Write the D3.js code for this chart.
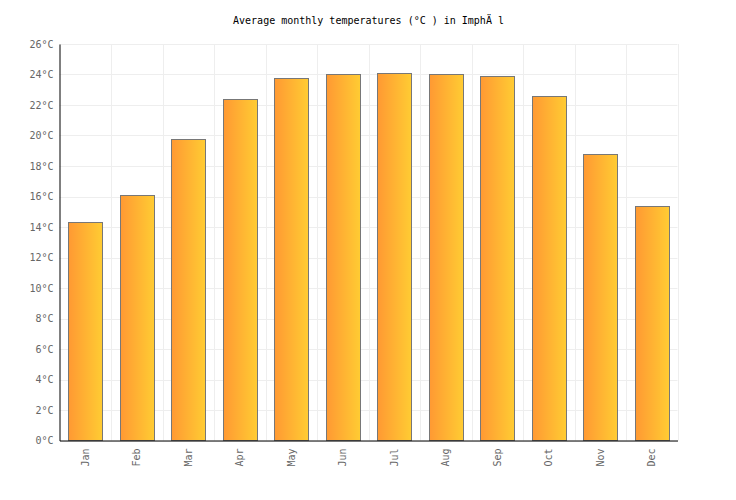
<!DOCTYPE html>
<html>
<head>
<meta charset="utf-8">
<script src="https://cdn.jsdelivr.net/npm/d3@7"></script>
<style>
  body { margin: 0; background: #fff; }
  svg text { font-family: "DejaVu Sans Mono", monospace; }
</style>
</head>
<body>
<svg id="chart"></svg>
<script>
// months and mean temperatures (°C)
var months = ["Jan", "Feb", "Mar", "Apr", "May", "Jun", "Jul", "Aug", "Sep", "Oct", "Nov", "Dec"];
var temps = [14.3, 16.1, 19.8, 22.4, 23.8, 24.0, 24.1, 24.0, 23.9, 22.6, 18.8, 15.4];
var yTicks = [0, 2, 4, 6, 8, 10, 12, 14, 16, 18, 20, 22, 24, 26];
var title = "Average monthly temperatures (°C ) in ImphÄ l";

var setup = {
  width: 736,
  height: 500,
  left: 59.5,
  right: 677.5,
  top: 44,
  bottom: 440.5
};

var svg = d3.select("#chart")
  .attr("width", setup.width)
  .attr("height", setup.height);

var grad = svg.append("defs").append("linearGradient")
  .attr("id", "barGrad")
  .attr("x1", "0%").attr("x2", "100%")
  .attr("y1", "0%").attr("y2", "0%");
grad.append("stop").attr("offset", "0%").attr("stop-color", "#ff9933");
grad.append("stop").attr("offset", "100%").attr("stop-color", "#ffcc33");

var x = d3.scaleBand()
  .domain(months)
  .range([setup.left, setup.right])
  .paddingInner(0.333)
  .paddingOuter(0.1665);

var band = d3.scaleBand()
  .domain(months)
  .range([setup.left, setup.right]);

var y = d3.scaleLinear()
  .domain([0, 26])
  .range([setup.bottom, setup.top]);

// grid
svg.append("g")
  .selectAll("line.h")
  .data(yTicks)
  .join("line")
    .attr("x1", setup.left)
    .attr("x2", setup.right)
    .attr("y1", d => Math.round(y(d)) + 0.5)
    .attr("y2", d => Math.round(y(d)) + 0.5)
    .attr("stroke", "#eeeeee");

svg.append("g")
  .selectAll("line.v")
  .data(months)
  .join("line")
    .attr("x1", d => Math.round(band(d) + band.bandwidth()) + 0.5)
    .attr("x2", d => Math.round(band(d) + band.bandwidth()) + 0.5)
    .attr("y1", setup.top)
    .attr("y2", setup.bottom)
    .attr("stroke", "#eeeeee");

// bars
svg.append("g")
  .selectAll("rect")
  .data(temps)
  .join("rect")
    .attr("x", (d, i) => Math.round(x(months[i])) + 0.5)
    .attr("width", Math.round(x.bandwidth()))
    .attr("y", d => Math.round(y(d)) + 0.5)
    .attr("height", d => setup.bottom - Math.round(y(d)) - 0.5)
    .attr("fill", "url(#barGrad)")
    .attr("stroke", "#777777")
    .attr("stroke-width", 1);

// axes
var yAxis = d3.axisLeft(y)
  .tickValues(yTicks)
  .tickSize(0)
  .tickPadding(6)
  .tickFormat(d => d + "°C");

var gy = svg.append("g")
  .attr("transform", "translate(" + setup.left + ",0)")
  .call(yAxis);
gy.select(".domain").attr("stroke", "#000");
gy.selectAll("text")
  .attr("fill", "#666")
  .style("font-size", "10px");

var xAxis = d3.axisBottom(x)
  .tickSize(0)
  .tickPadding(0);

var gx = svg.append("g")
  .attr("transform", "translate(0," + setup.bottom + ")")
  .call(xAxis);
gx.select(".domain").attr("stroke", "#000");
gx.selectAll("text")
  .attr("fill", "#666")
  .style("font-size", "10px")
  .attr("text-anchor", "end")
  .attr("dy", "0.35em")
  .attr("transform", "translate(0,8) rotate(-90)");

// title
svg.append("text")
  .attr("x", (setup.left + setup.right) / 2)
  .attr("y", 24)
  .attr("text-anchor", "middle")
  .attr("fill", "#000")
  .style("font-size", "10px")
  .text(title);
</script>
</body>
</html>
